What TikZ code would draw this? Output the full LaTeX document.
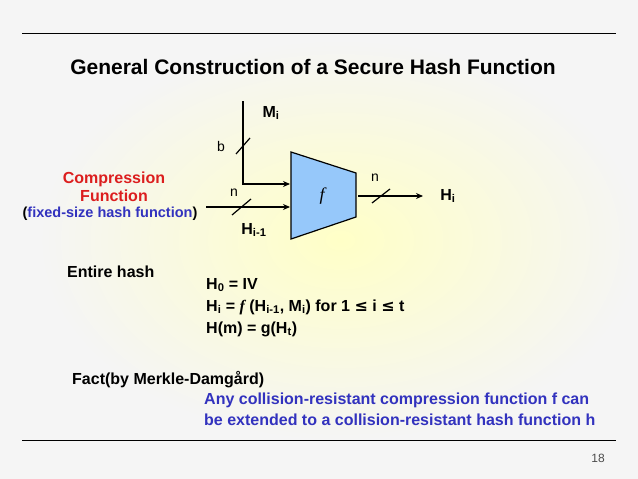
\documentclass[tikz,border=0pt]{standalone}
\usepackage{fontspec}
\setmainfont{Liberation Sans}
\newfontfamily\symf{DejaVu Sans}
\newfontfamily\serf{Liberation Serif}
\usetikzlibrary{arrows.meta}
\definecolor{tred}{RGB}{220,30,30}
\definecolor{tblue}{RGB}{50,50,190}
\definecolor{fblue}{RGB}{150,200,250}
\begin{document}
\begin{tikzpicture}[x=1pt,y=-1pt,
  txt/.style={font=\bfseries\fontsize{16}{19}\selectfont,inner sep=0pt},
  lab/.style={font=\fontsize{14}{16}\selectfont,inner sep=0pt},
  wire/.style={line width=1.2pt},
  arr/.style={wire,-{Stealth[length=7pt,width=6pt]}},
  slash/.style={line width=1.2pt}]
\useasboundingbox (0,0) rectangle (638,479);
\fill[white!92!gray] (0,0) rectangle (638,479);
\shade[inner color=yellow!22, outer color=white!92!gray] (40,40) rectangle (640,440);
\draw[line width=0.8pt] (22,33) -- (616,33);
\draw[line width=0.8pt] (22,440) -- (616,440);
\node[txt,font=\bfseries\fontsize{21}{24}\selectfont] (title) at (313,67) {General Construction of a Secure Hash Function};
% trapezoid
\coordinate (t1) at (291,152); \coordinate (t2) at (356,173);
\coordinate (t3) at (356,217); \coordinate (t4) at (291,239);
\filldraw[fill=fblue,line width=1.2pt] (t1)--(t2)--(t3)--(t4)--cycle;
\node[font=\fontsize{18}{20}\selectfont] (f) at (322,196) {\serf\itshape f};
\coordinate (mtop) at (243,101); \coordinate (mc) at (243,184); \coordinate (min) at (290,184);
\draw[arr] (mtop) -- (mc) -- (min);
\coordinate (hs) at (206,207); \coordinate (hin) at (290,207);
\draw[arr] (hs) -- (hin);
\coordinate (os) at (358,196); \coordinate (oe) at (423,196);
\draw[arr] (os) -- (oe);
\draw[slash] (236,154) -- (250,138);
\draw[slash] (232,215) -- (251,199);
\draw[slash] (372,203) -- (390,189);
\node[txt] (Mi) at (271,113) {M\textsubscript{i}};
\node[lab] (b) at (221,146) {b};
\node[lab] (n1) at (234,193) {n};
\node[lab] (n2) at (375,178) {n};
\node[txt] (Hi1) at (254,230) {H\textsubscript{i-1}};
\node[txt] (Hi) at (448,196) {H\textsubscript{i}};
\node[txt,text=tred,align=center,font=\bfseries\fontsize{16}{18}\selectfont] (cf) at (114,187) {Compression\\Function};
\node[txt,font=\bfseries\fontsize{14.5}{17}\selectfont] (fs) at (110,214) {(\textcolor{tblue}{fixed-size hash function})};
\node[txt,anchor=west] (eh) at (67,272) {Entire hash};
\node[txt,anchor=west] (l1) at (206,285) {H\textsubscript{0} = IV};
\node[txt,anchor=west] (l2) at (206,307) {H\textsubscript{i} = {\serf\itshape f} (H\textsubscript{i-1}, M\textsubscript{i}) for 1 {\symf ≤} i {\symf ≤} t};
\node[txt,anchor=west] (l3) at (206,329) {H(m) = g(H\textsubscript{t})};
\node[txt,anchor=west] (fact) at (72,380) {Fact(by Merkle-Damgård)};
\node[txt,anchor=west,text=tblue] (a1) at (204,400) {Any collision-resistant compression function f can};
\node[txt,anchor=west,text=tblue] (a2) at (204,420) {be extended to a collision-resistant hash function h};
\node[font=\fontsize{12}{14}\selectfont,text=gray!60!black] (pg) at (598,458) {18};
\end{tikzpicture}
\end{document}
